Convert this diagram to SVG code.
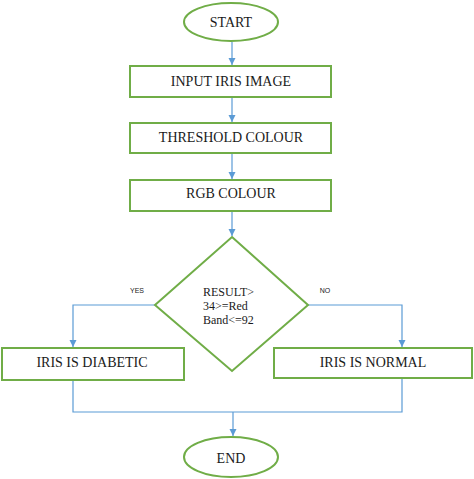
<svg xmlns="http://www.w3.org/2000/svg" width="474" height="479" viewBox="0 0 474 479">
<style>
.n{fill:#fff;stroke:#70AD47;stroke-width:2}
.t{font-family:'Liberation Serif','Times New Roman',Times,serif;font-size:14px;fill:#1a1a1a;text-anchor:middle}
.d{font-family:'Liberation Serif','Times New Roman',Times,serif;font-size:12px;fill:#1a1a1a}
.s{font-family:'Liberation Sans',Arial,sans-serif;font-size:7px;fill:#1a1a1a;text-anchor:middle}
.c{fill:none;stroke:#5B9BD5;stroke-width:1.2}
</style>
<defs>
<marker id="ah" markerWidth="8" markerHeight="8" refX="7" refY="4" orient="auto" markerUnits="userSpaceOnUse">
<path d="M0,0.5 L7,4 L0,7.5 Z" fill="#5B9BD5"/>
</marker>
</defs>
<rect width="474" height="479" fill="#fff"/>
<g id="connectors">
<path class="c" d="M232,42 V65" marker-end="url(#ah)"/>
<path class="c" d="M232,97 V122" marker-end="url(#ah)"/>
<path class="c" d="M232,153 V179" marker-end="url(#ah)"/>
<path class="c" d="M232,211 V236" marker-end="url(#ah)"/>
<path class="c" d="M155,305 H73 V347" marker-end="url(#ah)"/>
<path class="c" d="M308,305 H402 V347" marker-end="url(#ah)"/>
<path class="c" d="M73,380 V412 H402 V378"/>
<path class="c" d="M233,412 V436" marker-end="url(#ah)"/>
</g>
<g id="start"><ellipse class="n" cx="231" cy="22" rx="47" ry="19"/><text class="t" x="231" y="27" font-family="Liberation Serif, serif">START</text></g>
<g id="input"><rect class="n" x="130" y="66" width="201" height="31"/><text class="t" x="231" y="86">INPUT IRIS IMAGE</text></g>
<g id="threshold"><rect class="n" x="130" y="123" width="201" height="30"/><text class="t" x="231" y="142">THRESHOLD COLOUR</text></g>
<g id="rgb"><rect class="n" x="130" y="180" width="201" height="31"/><text class="t" x="231" y="198">RGB COLOUR</text></g>
<g id="decision"><polygon class="n" points="232,237 308,305 232,371 155,305"/>
<text class="d" x="203" y="296">RESULT&gt;</text>
<text class="d" x="203" y="310">34&gt;=Red</text>
<text class="d" x="203" y="324">Band&lt;=92</text>
</g>
<g id="yes"><text class="s" x="137" y="293">YES</text></g>
<g id="no"><text class="s" x="325" y="293">NO</text></g>
<g id="diabetic"><rect class="n" x="2" y="348" width="182" height="32"/><text class="t" x="92" y="367">IRIS IS DIABETIC</text></g>
<g id="normal"><rect class="n" x="274" y="348" width="198" height="30"/><text class="t" x="373" y="367">IRIS IS NORMAL</text></g>
<g id="end"><ellipse class="n" cx="231" cy="457" rx="47" ry="20"/><text class="t" x="231" y="463">END</text></g>
</svg>
